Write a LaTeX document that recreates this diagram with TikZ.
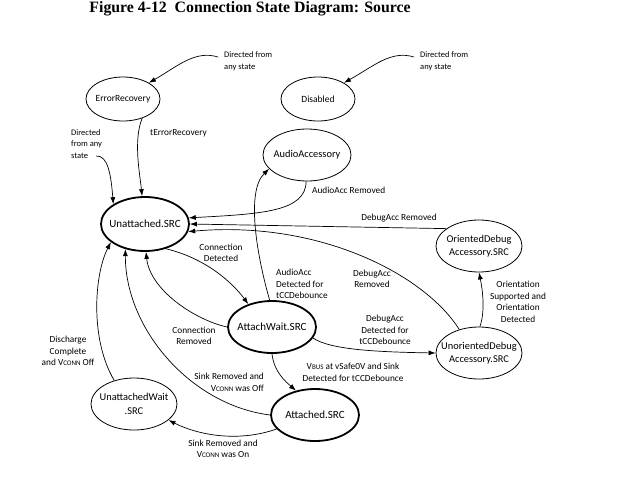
\documentclass[tikz,border=0pt]{standalone}
\usepackage{fontspec}
\setmainfont{Carlito}
\newfontfamily\titlefont{Liberation Serif}
\usetikzlibrary{arrows.meta,shapes.geometric}
\newcommand\mysc[1]{{\fontsize{7}{8}\selectfont #1}}
\begin{document}
\begin{tikzpicture}[x=1pt,y=-1pt,
  st/.style={draw,ellipse,inner sep=0pt,line width=0.8pt},
  thk/.style={line width=1.8pt},
  ntext/.style={font=\fontsize{10.4}{13.3}\selectfont,align=center,inner sep=0pt},
  ntextS/.style={font=\fontsize{9.5}{12}\selectfont,align=center,inner sep=0pt},
  ntextL/.style={font=\fontsize{11}{13.3}\selectfont,align=center,inner sep=0pt},
  lbl/.style={font=\fontsize{9.3}{11.5}\selectfont,inner sep=0pt},
  lblS/.style={font=\fontsize{8.5}{11.5}\selectfont,inner sep=0pt},
  arr/.style={-{Latex[length=7pt,width=5pt]},line width=0.7pt}]
\useasboundingbox (0,0) rectangle (617,490);
% title
\node[font=\titlefont\bfseries\fontsize{15.8}{18}\selectfont] (title) at (250,8.5) {Figure 4-12\ \ Connection State Diagram: Source};
% states
\node[st,minimum width=74pt,minimum height=44pt,label={[ntextS]center:ErrorRecovery}] (err) at (123,99) {};
\node[st,minimum width=74pt,minimum height=44pt,label={[ntextS]center:Disabled}] (dis) at (318,99) {};
\node[st,thk,minimum width=88pt,minimum height=54pt,label={[ntextL]center:Unattached.SRC}] (una) at (145,224) {};
\node[st,minimum width=88pt,minimum height=52pt,label={[ntext]center:AudioAccessory}] (aud) at (307,155) {};
\node[st,minimum width=86pt,minimum height=52pt,label={[ntext]center:{OrientedDebug\\Accessory.SRC}}] (odbg) at (479,246) {};
\node[st,minimum width=86pt,minimum height=52pt,label={[ntext]center:{UnorientedDebug\\Accessory.SRC}}] (udbg) at (479,353) {};
\node[st,thk,minimum width=88pt,minimum height=52pt,label={[ntextL]center:AttachWait.SRC}] (aw) at (272,327) {};
\node[st,thk,minimum width=88pt,minimum height=52pt,label={[ntextL]center:Attached.SRC}] (att) at (315,415) {};
\node[st,minimum width=86pt,minimum height=52pt,label={[ntext]center:{UnattachedWait\\.SRC}}] (uw) at (134,404) {};
% free ends
\coordinate (c1) at (218,57);
\coordinate (c2) at (414,57);
\coordinate (c3) at (96,156);
% labels
\node[lblS,align=left,anchor=west] (l1) at (224,61) {Directed from\\any state};
\node[lblS,align=left,anchor=west] (l2) at (420,61) {Directed from\\any state};
\node[lblS,align=left,anchor=west] (l3) at (71,144) {Directed\\from any\\state};
\node[lbl,anchor=west] (l4) at (150,133) {tErrorRecovery};
\node[lbl,anchor=west] (l5) at (312,190) {AudioAcc Removed};
\node[lbl] (l6) at (399,218) {DebugAcc Removed};
\node[lbl,align=center] (l7) at (372,279) {DebugAcc\\Removed};
\node[lbl,align=center] (l8) at (518,302) {Orientation\\Supported and\\Orientation\\Detected};
\node[lbl,align=center] (l9) at (221,253) {Connection\\Detected};
\node[lbl,align=center] (l10) at (194,336) {Connection\\Removed};
\node[lbl,align=left,anchor=west] (l11) at (276,284) {AudioAcc\\Detected for\\tCCDebounce};
\node[lbl,align=center] (l12) at (385,330) {DebugAcc\\Detected for\\tCCDebounce};
\node[lbl,align=center] (l13) at (353,372.5) {V\mysc{BUS} at vSafe0V and Sink\\Detected for tCCDebounce};
\node[lbl,align=right,anchor=east] (l14) at (264,382.5) {Sink Removed and\\V\mysc{CONN} was Off};
\node[lbl,align=center] (l15) at (68,351) {Discharge\\Complete\\and V\mysc{CONN} Off};
\node[lbl,align=center] (l16) at (223,449) {Sink Removed and\\V\mysc{CONN} was On};
% connectors
\draw[arr] (c1) .. controls (195,50) and (178,66) .. (err.32);
\draw[arr] (c2) .. controls (391,50) and (374,66) .. (dis.32);
\draw[arr] (c3) .. controls (108,155) and (111,175) .. (una.148);
\draw[arr] (err.-45) .. controls (133,140) and (140,175) .. (una.96);
\draw[arr] (aud.-92) .. controls (306,212) and (260,214) .. (una.8);
\draw[arr] (odbg.152) -- (una.0);
\draw[arr] (udbg.130) .. controls (425,275) and (320,220) .. (una.-10);
\draw[arr] (udbg.88) .. controls (485,312) and (483,292) .. (odbg.-90);
\draw[arr] (una.-50) .. controls (205,258) and (232,282) .. (aw.136);
\draw[arr] (aw.180) .. controls (195,320) and (150,290) .. (una.-88);
\draw[arr] (att.180) .. controls (190,405) and (125,328) .. (una.-128);
\draw[arr] (uw.130) .. controls (90,340) and (94,275) .. (una.-152);
\draw[arr] (att.200) .. controls (240,442) and (200,436) .. (uw.-25);
\draw[arr] (aw.-90) .. controls (274,372) and (286,382) .. (att.128);
\draw[arr] (aw.-15) .. controls (330,350) and (380,352) .. (udbg.180);
\draw[arr] (aw.95) .. controls (258,260) and (245,192) .. (aud.200);
\end{tikzpicture}
\end{document}
